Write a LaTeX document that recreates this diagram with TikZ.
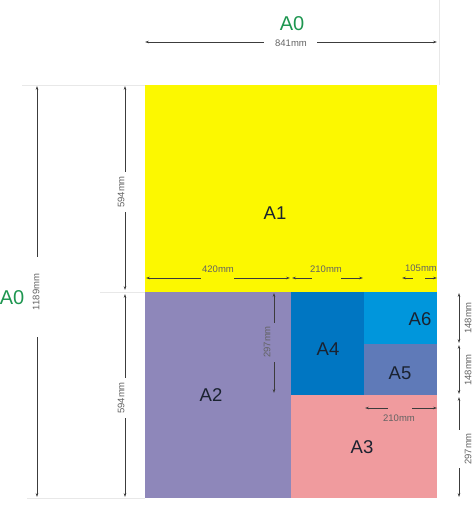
\documentclass[tikz,border=0pt]{standalone}
\usepackage{fontspec}
\setmainfont{Liberation Sans}
\usetikzlibrary{arrows.meta}

\definecolor{aone}{RGB}{252,248,0}
\definecolor{atwo}{RGB}{142,135,186}
\definecolor{athree}{RGB}{240,155,158}
\definecolor{afour}{RGB}{0,118,194}
\definecolor{afive}{RGB}{95,122,184}
\definecolor{asix}{RGB}{0,150,220}
\definecolor{aname}{RGB}{30,150,80}
\definecolor{sheettext}{RGB}{26,34,48}
\definecolor{dimline}{RGB}{60,60,60}

\begin{document}
\begin{tikzpicture}[x=1pt,y=-1pt]
\tikzstyle{every node}=[inner sep=0pt]
\tikzstyle{sheet}=[font=\fontsize{18.5}{18.5}\selectfont, text=sheettext]
\tikzstyle{paper}=[font=\fontsize{20}{20}\selectfont, text=aname]
\tikzstyle{measure}=[font=\fontsize{9.5}{9.5}\selectfont, text=dimline!80]
\tikzstyle{dimstart}=[draw=dimline, line width=0.6pt, {Stealth[length=4pt,width=2.6pt]}-]
\tikzstyle{dimend}=[draw=dimline, line width=0.6pt, -{Stealth[length=4pt,width=2.6pt]}]
\tikzstyle{dimboth}=[draw=dimline, line width=0.6pt, {Stealth[length=4pt,width=2.6pt]}-{Stealth[length=4pt,width=2.6pt]}]
\tikzstyle{extline}=[draw=gray!18, line width=0.6pt]

\useasboundingbox (0,0) rectangle (474,516);

% sheets
\fill[aone] (145,85) rectangle (437,292);
\fill[atwo] (145,292) rectangle (291,498);
\fill[afour] (291,292) rectangle (364,395);
\fill[asix] (364,292) rectangle (437,344);
\fill[afive] (364,344) rectangle (437,395);
\fill[athree] (291,395) rectangle (437,498);

\node[sheet] at (275,213) (A1) {A1};
\node[sheet] at (211,395) (A2) {A2};
\node[sheet] at (328,349) (A4) {A4};
\node[sheet] at (420,319) (A6) {A6};
\node[sheet] at (400,373) (A5) {A5};
\node[sheet] at (362,447) (A3) {A3};

% extension lines
\draw[extline] (22,85) -- (145,85);
\draw[extline] (100,292) -- (145,292);
\draw[extline] (27,498) -- (145,498);
\draw[extline] (439,0) -- (439,85);

% A0 width
\node[paper] at (292,24) (top name) {A0};
\node[measure] at (291,43) (w841) {841mm};
\coordinate (top l) at (145,42);
\coordinate (top lg) at (264,42);
\coordinate (top rg) at (317,42);
\coordinate (top r) at (437,42);
\draw[dimstart] (top l) -- (top lg);
\draw[dimend] (top rg) -- (top r);

% A0 height
\node[paper] at (12,298) (left name) {A0};
\node[measure, rotate=90] at (36,292) (h1189) {1189mm};
\coordinate (full t) at (37,86);
\coordinate (full tg) at (37,257);
\coordinate (full bg) at (37,337);
\coordinate (full b) at (37,497);
\draw[dimstart] (full t) -- (full tg);
\draw[dimend] (full bg) -- (full b);

% A1 and A2 heights
\node[measure, rotate=90] at (121,192) (h594a) {594mm};
\coordinate (up t) at (125,86);
\coordinate (up tg) at (125,172);
\coordinate (up bg) at (125,212);
\coordinate (up b) at (125,290);
\draw[dimstart] (up t) -- (up tg);
\draw[dimend] (up bg) -- (up b);
\node[measure, rotate=90] at (121,398) (h594b) {594mm};
\coordinate (lo t) at (125,294);
\coordinate (lo tg) at (125,378);
\coordinate (lo bg) at (125,418);
\coordinate (lo b) at (125,497);
\draw[dimstart] (lo t) -- (lo tg);
\draw[dimend] (lo bg) -- (lo b);

% widths across A1
\node[measure] at (218,269) (w420) {420mm};
\coordinate (w420 l) at (146,278);
\coordinate (w420 lg) at (201,278);
\coordinate (w420 rg) at (234,278);
\coordinate (w420 r) at (290,278);
\draw[dimstart] (w420 l) -- (w420 lg);
\draw[dimend] (w420 rg) -- (w420 r);
\node[measure] at (326,269) (w210a) {210mm};
\coordinate (w210a l) at (292,278);
\coordinate (w210a lg) at (312,278);
\coordinate (w210a rg) at (341,278);
\coordinate (w210a r) at (363,278);
\draw[dimstart] (w210a l) -- (w210a lg);
\draw[dimend] (w210a rg) -- (w210a r);
\node[measure] at (421,268) (w105) {105mm};
\coordinate (w105 l) at (402,278);
\coordinate (w105 lg) at (413,278);
\coordinate (w105 rg) at (425,278);
\coordinate (w105 r) at (437,278);
\draw[dimstart] (w105 l) -- (w105 lg);
\draw[dimend] (w105 rg) -- (w105 r);

% A4 height
\node[measure, rotate=90] at (267,342) (h297a) {297mm};
\coordinate (a4 t) at (274,293);
\coordinate (a4 tg) at (274,323);
\coordinate (a4 bg) at (274,362);
\coordinate (a4 b) at (274,393);
\draw[dimstart] (a4 t) -- (a4 tg);
\draw[dimend] (a4 bg) -- (a4 b);

% A3 width
\node[measure] at (399,418) (w210b) {210mm};
\coordinate (a3 l) at (365,408);
\coordinate (a3 lg) at (388,408);
\coordinate (a3 rg) at (412,408);
\coordinate (a3 r) at (437,408);
\draw[dimstart] (a3 l) -- (a3 lg);
\draw[dimend] (a3 rg) -- (a3 r);

% right side heights
\coordinate (r6 t) at (459,293);
\coordinate (r6 b) at (459,343);
\coordinate (r5 t) at (459,345);
\coordinate (r5 b) at (459,394);
\coordinate (r3 t) at (459,397);
\coordinate (r3 g1) at (459,430);
\coordinate (r3 g2) at (459,468);
\coordinate (r3 b) at (459,497);
\draw[dimboth] (r6 t) -- (r6 b);
\draw[dimboth] (r5 t) -- (r5 b);
\draw[dimstart] (r3 t) -- (r3 g1);
\draw[dimend] (r3 g2) -- (r3 b);
\node[measure, rotate=90] at (468,318) (h148a) {148mm};
\node[measure, rotate=90] at (468,370) (h148b) {148mm};
\node[measure, rotate=90] at (468,449) (h297b) {297mm};
\end{tikzpicture}
\end{document}
